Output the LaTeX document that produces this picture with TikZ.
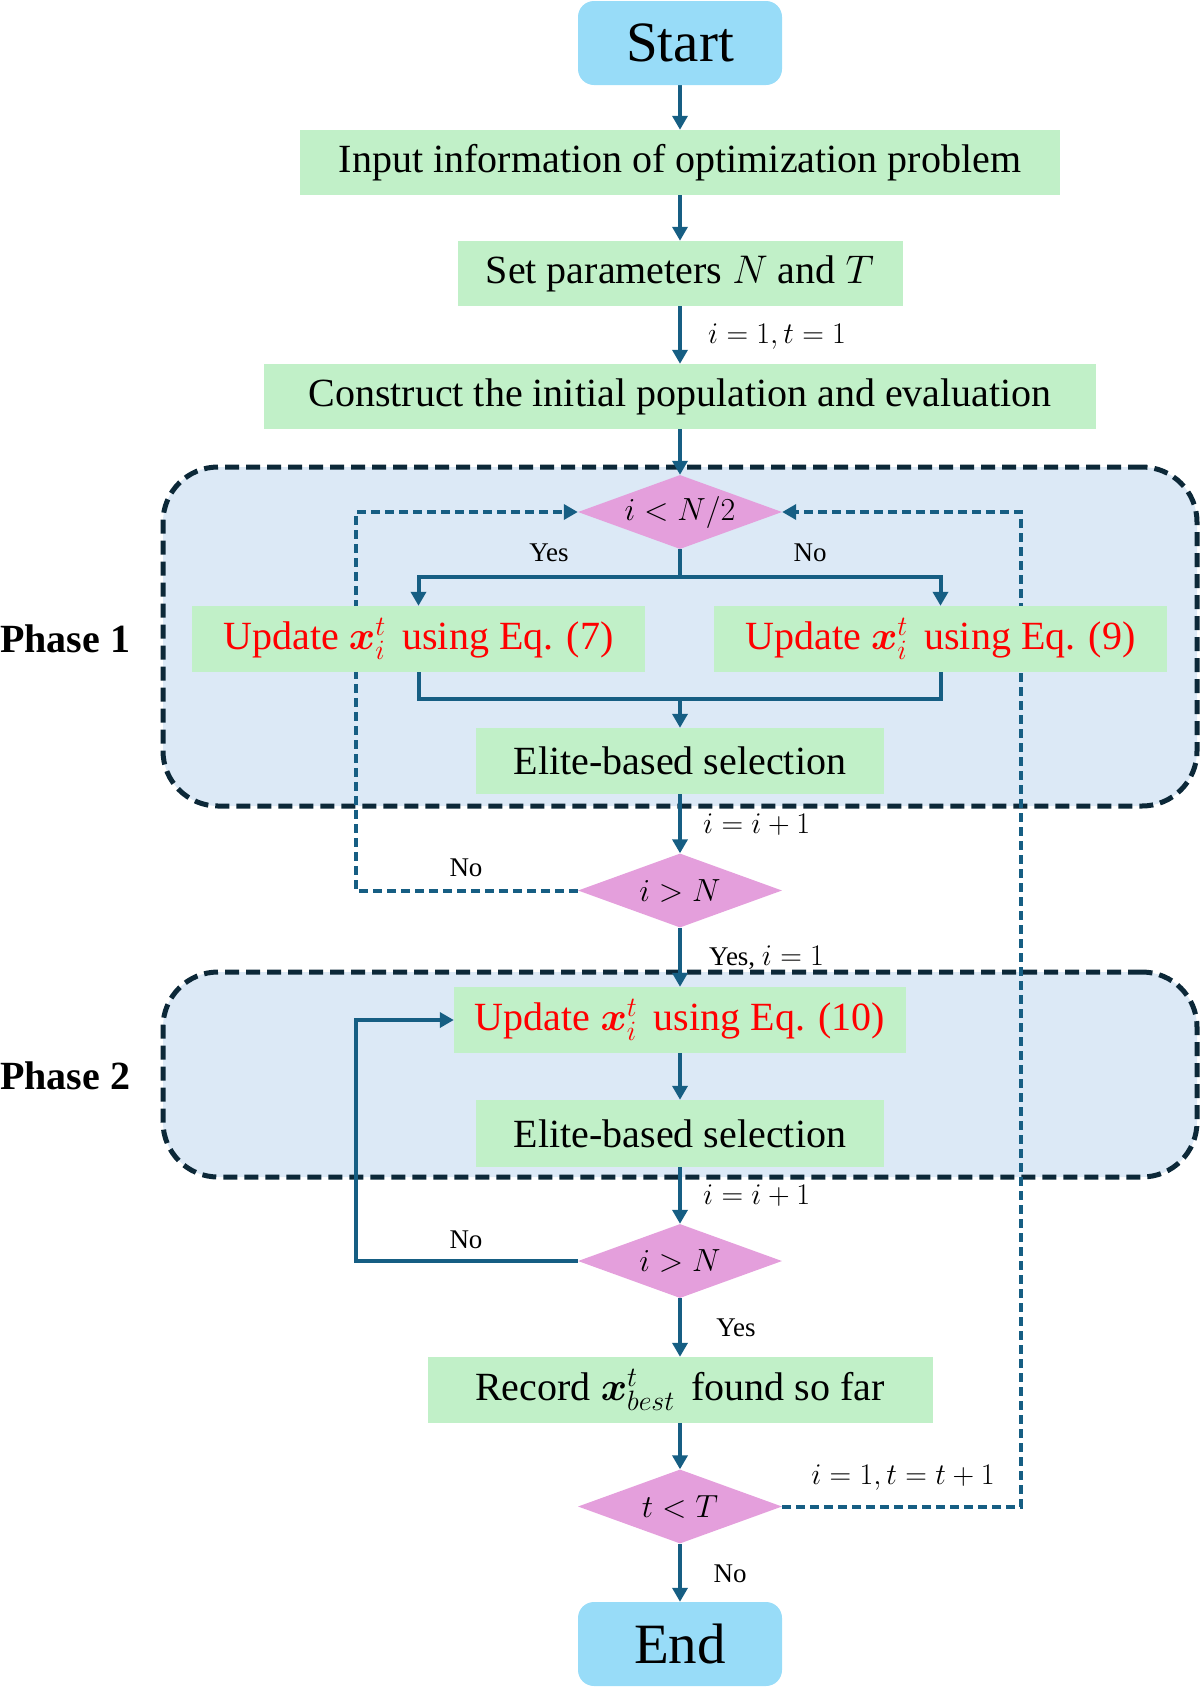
\RequirePackage{fix-cm}
\documentclass[tikz,border=0pt]{standalone}
\usepackage{amsmath}
\usepackage{fontspec}
\setmainfont{Liberation Serif}
\usetikzlibrary{arrows.meta,shapes.geometric}
\definecolor{boxgreen}{RGB}{193,240,200}
\definecolor{termblue}{RGB}{152,220,248}
\definecolor{diapink}{RGB}{228,159,220}
\definecolor{arrowc}{RGB}{22,94,131}
\definecolor{phasebg}{RGB}{220,233,246}
\definecolor{phaseline}{RGB}{12,40,56}
\definecolor{redtxt}{RGB}{255,0,0}
\pgfdeclarelayer{bbg}
\pgfdeclarelayer{bg}
\pgfsetlayers{bbg,bg,main}
\begin{document}
\begin{tikzpicture}[x=1pt,y=-1pt,
  gbox/.style={fill=boxgreen, inner sep=0pt, font=\fontsize{40}{48}\selectfont},
  rbox/.style={gbox, text=redtxt},
  tbox/.style={fill=termblue, rounded corners=16pt, inner sep=0pt, minimum width=204pt, minimum height=84pt, font=\fontsize{57}{64}\selectfont},
  dia/.style={diamond, aspect=2.75, fill=diapink, inner sep=0pt, minimum width=204pt, minimum height=74pt, font=\fontsize{32}{36}\selectfont},
  lab/.style={inner sep=0pt, font=\fontsize{27}{30}\selectfont},
  mlab/.style={inner sep=0pt, font=\fontsize{30}{33}\selectfont},
  phlab/.style={inner sep=0pt, font=\fontsize{40}{48}\selectfont\bfseries},
  flowline/.style={draw=arrowc, line width=4pt},
  flow/.style={flowline, -{Triangle[length=14pt,width=15pt]}},
  dflow/.style={flow, dash pattern=on 9pt off 5pt},
  phase/.style={fill=phasebg, draw=phaseline, line width=5pt, dash pattern=on 14pt off 7pt, rounded corners=55pt, inner sep=0pt}
]
\useasboundingbox (0,0) rectangle (1200,1687);

\begin{pgfonlayer}{bbg}
\node[phase, minimum width=1034pt, minimum height=339pt] (ph1) at (680,636.5) {};
\node[phase, minimum width=1034pt, minimum height=205pt] (ph2) at (680,1074.5) {};
\end{pgfonlayer}

\node[phlab, anchor=west] (p1lab) at (0,639) {Phase 1};
\node[phlab, anchor=west] (p2lab) at (0,1076) {Phase 2};

\node[tbox] (start) at (680,43) {Start};
\node[gbox, minimum width=760pt, minimum height=65pt] (input) at (680,162.5) {Input information of optimization problem};
\node[gbox, minimum width=445pt, minimum height=65pt] (setp) at (680,273.5) {Set parameters $N$ and $T$};
\node[gbox, minimum width=832pt, minimum height=65pt] (cons) at (680,396.5) {Construct the initial population and evaluation};
\node[dia] (d1) at (680,512) {$i<N/2$};
\node[rbox, minimum width=453pt, minimum height=66pt] (upd7) at (418.5,639) {Update $\boldsymbol{x}_i^t$\, using Eq. (7)};
\node[rbox, minimum width=453pt, minimum height=66pt] (upd9) at (940.5,639) {Update $\boldsymbol{x}_i^t$\, using Eq. (9)};
\node[gbox, minimum width=408pt, minimum height=66pt] (elite1) at (680,761) {Elite-based selection};
\node[dia] (d2) at (680,890.5) {$i>N$};
\node[rbox, minimum width=452pt, minimum height=66pt] (upd10) at (680,1020) {Update $\boldsymbol{x}_i^t$\, using Eq. (10)};
\node[gbox, minimum width=408pt, minimum height=67pt] (elite2) at (680,1133.5) {Elite-based selection};
\node[dia] (d3) at (680,1261) {$i>N$};
\node[gbox, minimum width=505pt, minimum height=66pt] (rec) at (680,1390) {Record $\boldsymbol{x}_{best}^t$\, found so far};
\node[dia] (d4) at (680,1506.5) {$t<T$};
\node[tbox] (endn) at (680,1644) {End};

\node[mlab, anchor=west] (l1) at (708,337) {$i=1, t=1$};
\node[lab] (lyes1) at (549,553) {Yes};
\node[lab] (lno1) at (810,553) {No};
\node[mlab, anchor=west] (l2) at (703,825) {$i=i+1$};
\node[lab] (lno2) at (466,868) {No};
\node[lab, anchor=west] (l3) at (709,958) {Yes, {\fontsize{30}{33}\selectfont$i=1$}};
\node[mlab, anchor=west] (l4) at (703,1196) {$i=i+1$};
\node[lab] (lno3) at (466,1240) {No};
\node[lab] (lyes3) at (736,1328) {Yes};
\node[mlab] (l5) at (903,1478) {$i=1, t=t+1$};
\node[lab] (lno4) at (730,1574) {No};

\begin{pgfonlayer}{bg}
\coordinate (br) at (680,577);
\coordinate (mg) at (680,699);
\draw[flow] (start) -- (input);
\draw[flow] (input) -- (setp);
\draw[flow] (setp) -- (cons);
\draw[flow] (cons) -- (d1);
\draw[flowline] (d1.south) -- (br);
\draw[flow] (br) -| (upd7.north);
\draw[flow] (br) -| (upd9.north);
\draw[flowline] (upd7.south) |- (mg) -| (upd9.south);
\draw[flow] (mg) -- (elite1);
\draw[flow] (elite1) -- (d2);
\draw[dflow] (d2.west) -- ++(-222,0) |- (d1.west);
\draw[flow] (d2) -- (upd10);
\draw[flow] (upd10) -- (elite2);
\draw[flow] (elite2) -- (d3);
\draw[flow] (d3.west) -- ++(-222,0) |- (upd10.west);
\draw[flow] (d3) -- (rec);
\draw[flow] (rec) -- (d4);
\draw[dflow] (d4.east) -- ++(239,0) |- (d1.east);
\draw[flow] (d4) -- (endn);
\end{pgfonlayer}
\end{tikzpicture}
\end{document}
